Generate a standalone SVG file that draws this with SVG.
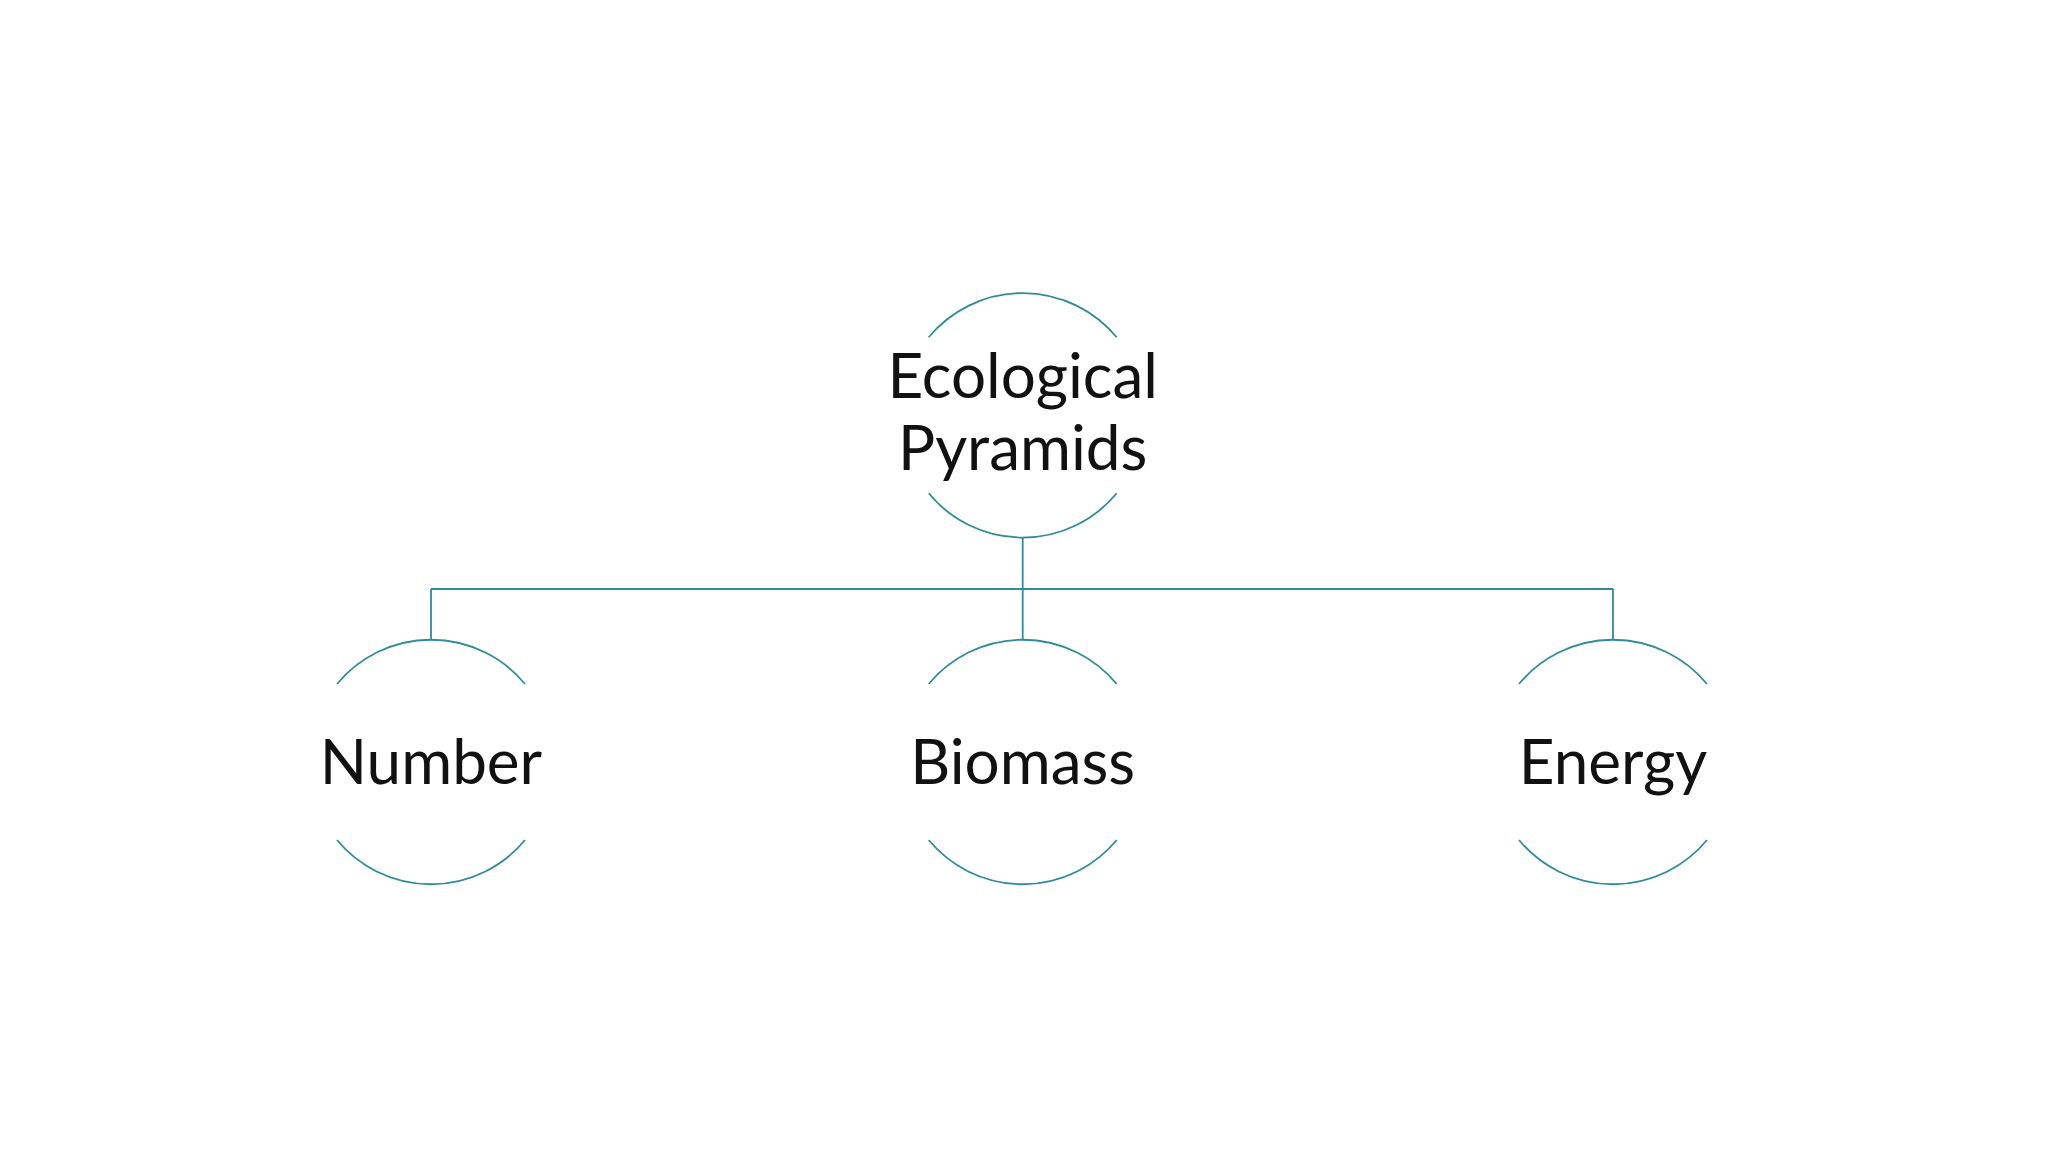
<svg xmlns="http://www.w3.org/2000/svg" width="2048" height="1152" viewBox="0 0 2048 1152">
<style>
.arc{fill:none;stroke:#2f8c98;stroke-width:1.8}
.con{fill:none;stroke:#2f8c98;stroke-width:1.8}
text{font-family:Lato,"Open Sans",sans-serif;font-size:62px;fill:#111;text-anchor:middle}
</style>
<rect width="2048" height="1152" fill="#fff"/>
<g id="connectors">
<path class="con" d="M1022.7 537V589M431 589H1613M431 589V640M1022.7 589V640M1613 589V640"/>
</g>
<g id="root">
<path class="arc" d="M928.7 337.3A122 122 0 0 1 1116.7 337.3M928.7 493.3A122 122 0 0 0 1116.7 493.3"/>
<text x="1022.7" y="398">Ecological</text>
<text x="1022.7" y="470">Pyramids</text>
</g>
<g id="number">
<path class="arc" d="M337 684A122 122 0 0 1 525 684M337 840A122 122 0 0 0 525 840"/>
<text x="431" y="784">Number</text>
</g>
<g id="biomass">
<path class="arc" d="M928.7 684A122 122 0 0 1 1116.7 684M928.7 840A122 122 0 0 0 1116.7 840"/>
<text x="1022.7" y="784">Biomass</text>
</g>
<g id="energy">
<path class="arc" d="M1519 684A122 122 0 0 1 1707 684M1519 840A122 122 0 0 0 1707 840"/>
<text x="1613" y="784">Energy</text>
</g>
</svg>
